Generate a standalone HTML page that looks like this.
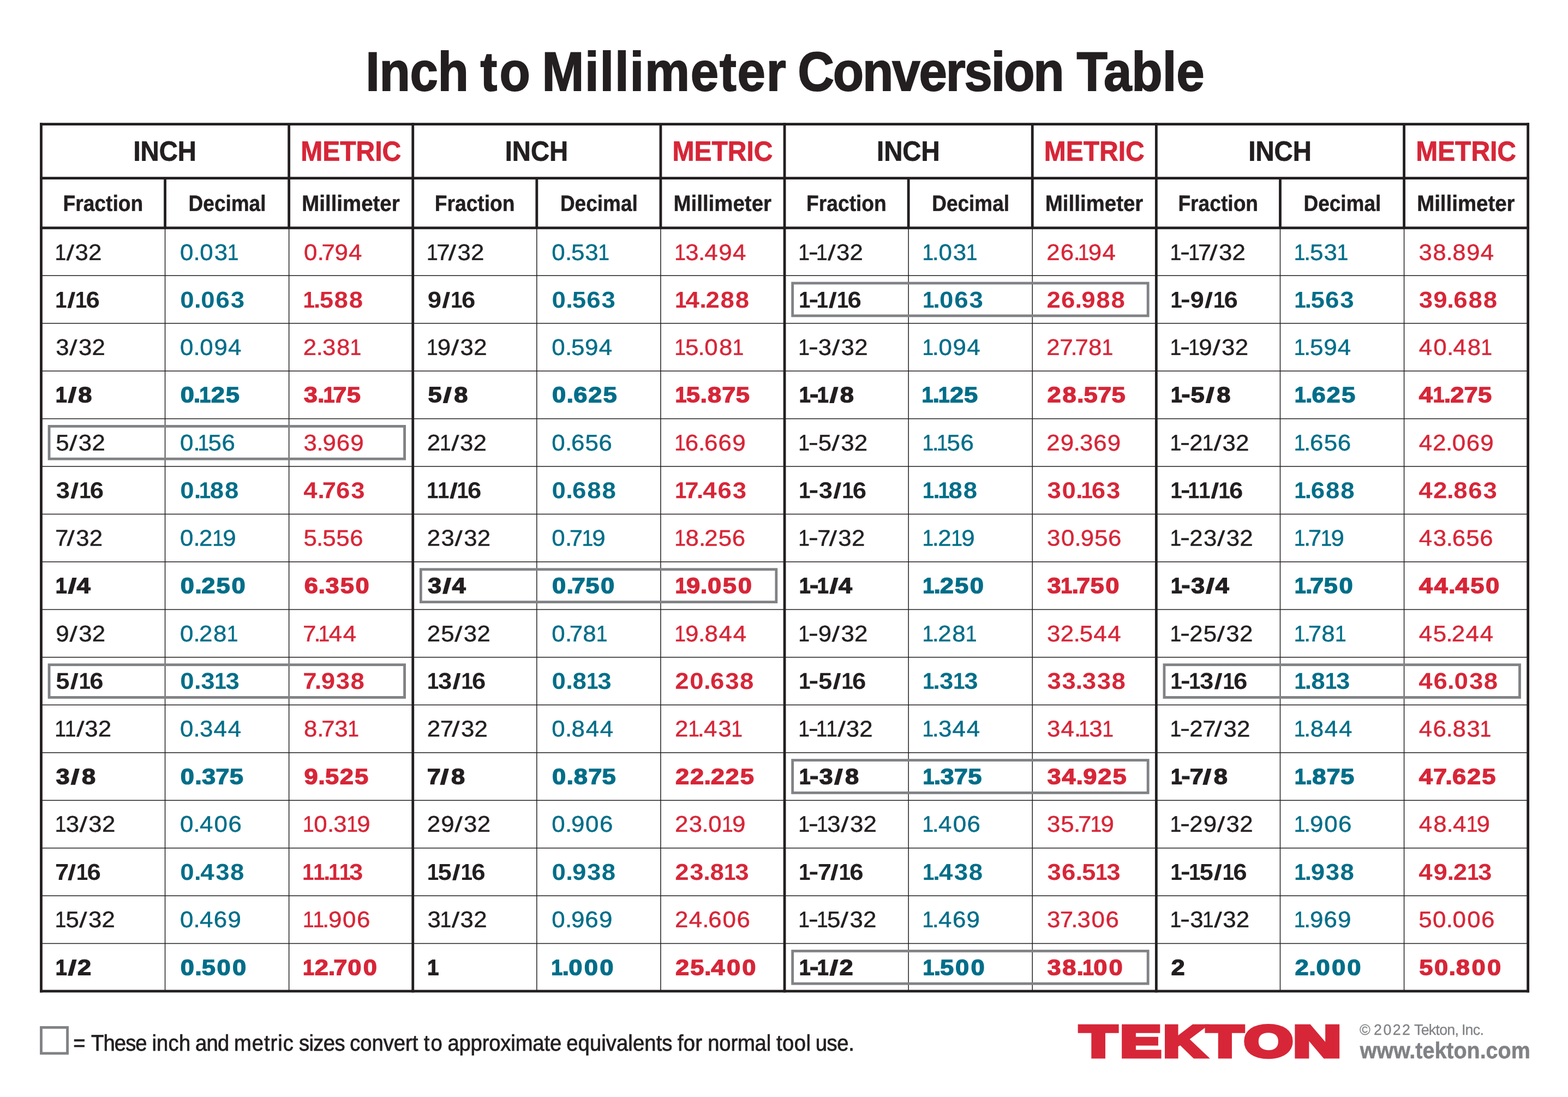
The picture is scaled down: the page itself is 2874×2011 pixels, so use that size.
<!DOCTYPE html>
<html lang="en">
<head>
<meta charset="utf-8">
<title>Inch to Millimeter Conversion Table</title>
<style>
html,body{margin:0;padding:0;background:#fff}
body{width:2874px;height:2011px;overflow:hidden}
svg{display:block;font-family:'Liberation Sans', Arial, Helvetica, sans-serif;text-rendering:geometricPrecision}
text{white-space:pre}
</style>
</head>
<body>
<svg width="2874" height="2011" viewBox="0 0 2874 2011">
<rect width="2874" height="2011" fill="#fff"/>
<g fill="#231f20">
<rect x="75.45" y="504.50" width="2725.20" height="1.5"/>
<rect x="75.45" y="591.95" width="2725.20" height="1.5"/>
<rect x="75.45" y="679.40" width="2725.20" height="1.5"/>
<rect x="75.45" y="766.85" width="2725.20" height="1.5"/>
<rect x="75.45" y="854.30" width="2725.20" height="1.5"/>
<rect x="75.45" y="941.75" width="2725.20" height="1.5"/>
<rect x="75.45" y="1029.20" width="2725.20" height="1.5"/>
<rect x="75.45" y="1116.65" width="2725.20" height="1.5"/>
<rect x="75.45" y="1204.10" width="2725.20" height="1.5"/>
<rect x="75.45" y="1291.55" width="2725.20" height="1.5"/>
<rect x="75.45" y="1379.00" width="2725.20" height="1.5"/>
<rect x="75.45" y="1466.45" width="2725.20" height="1.5"/>
<rect x="75.45" y="1553.90" width="2725.20" height="1.5"/>
<rect x="75.45" y="1641.35" width="2725.20" height="1.5"/>
<rect x="75.45" y="1728.80" width="2725.20" height="1.5"/>
<rect x="301.80" y="417.80" width="1.5" height="1399.20"/>
<rect x="528.90" y="417.80" width="1.5" height="1399.20"/>
<rect x="983.10" y="417.80" width="1.5" height="1399.20"/>
<rect x="1210.20" y="417.80" width="1.5" height="1399.20"/>
<rect x="1664.40" y="417.80" width="1.5" height="1399.20"/>
<rect x="1891.50" y="417.80" width="1.5" height="1399.20"/>
<rect x="2345.70" y="417.80" width="1.5" height="1399.20"/>
<rect x="2572.80" y="417.80" width="1.5" height="1399.20"/>
<rect x="73.05" y="225.20" width="2730.00" height="4.8"/>
<rect x="73.05" y="324.20" width="2730.00" height="4.8"/>
<rect x="73.05" y="415.40" width="2730.00" height="4.8"/>
<rect x="73.05" y="1814.60" width="2730.00" height="4.8"/>
<rect x="73.05" y="225.20" width="4.8" height="1594.20"/>
<rect x="300.15" y="326.60" width="4.8" height="91.20"/>
<rect x="527.25" y="227.60" width="4.8" height="190.20"/>
<rect x="754.35" y="225.20" width="4.8" height="1594.20"/>
<rect x="981.45" y="326.60" width="4.8" height="91.20"/>
<rect x="1208.55" y="227.60" width="4.8" height="190.20"/>
<rect x="1435.65" y="225.20" width="4.8" height="1594.20"/>
<rect x="1662.75" y="326.60" width="4.8" height="91.20"/>
<rect x="1889.85" y="227.60" width="4.8" height="190.20"/>
<rect x="2116.95" y="225.20" width="4.8" height="1594.20"/>
<rect x="2344.05" y="326.60" width="4.8" height="91.20"/>
<rect x="2571.15" y="227.60" width="4.8" height="190.20"/>
<rect x="2798.25" y="225.20" width="4.8" height="1594.20"/>
</g>
<g fill="none" stroke="#808285" stroke-width="4.8">
<rect x="90.05" y="781.43" width="651.50" height="59.8"/>
<rect x="90.05" y="1218.67" width="651.50" height="59.8"/>
<rect x="771.35" y="1043.78" width="651.50" height="59.8"/>
<rect x="1452.65" y="519.08" width="651.50" height="59.8"/>
<rect x="1452.65" y="1393.57" width="651.50" height="59.8"/>
<rect x="1452.65" y="1743.38" width="651.50" height="59.8"/>
<rect x="2133.95" y="1218.67" width="651.50" height="59.8"/>
<rect x="75.47" y="1883.5" width="48.1" height="47.5"/>
</g>
<text transform="translate(0 165.70) scale(0.9151 1)" y="0" font-size="100.87" font-weight="bold" fill="#231f20" stroke="#231f20" stroke-width="2.0" stroke-linejoin="miter"><tspan x="732.49" letter-spacing="-0.453">Inch</tspan> <tspan x="962.26" letter-spacing="4.557">to</tspan> <tspan x="1085.55" letter-spacing="1.985">Millimeter</tspan> <tspan x="1597.97" letter-spacing="-2.340">Conversion</tspan> <tspan x="2156.52">Table</tspan></text>
<text transform="translate(242.85 294.50) rotate(0.05) scale(0.9293 1)" y="0" font-size="50.87" font-weight="bold" fill="#231f20" stroke="#231f20" stroke-width="0.8" stroke-linejoin="miter"><tspan x="1.70">INCH</tspan></text>
<text transform="translate(549.7 294.50) rotate(0.05) scale(0.9432 1)" y="0" font-size="50.87" font-weight="bold" fill="#d72638" stroke="#d72638" stroke-width="0.8" stroke-linejoin="miter"><tspan x="1.64">METRIC</tspan></text>
<text transform="translate(924.15 294.50) rotate(0.05) scale(0.9293 1)" y="0" font-size="50.87" font-weight="bold" fill="#231f20" stroke="#231f20" stroke-width="0.8" stroke-linejoin="miter"><tspan x="1.70">INCH</tspan></text>
<text transform="translate(1231 294.50) rotate(0.05) scale(0.9432 1)" y="0" font-size="50.87" font-weight="bold" fill="#d72638" stroke="#d72638" stroke-width="0.8" stroke-linejoin="miter"><tspan x="1.64">METRIC</tspan></text>
<text transform="translate(1605.45 294.50) rotate(0.05) scale(0.9293 1)" y="0" font-size="50.87" font-weight="bold" fill="#231f20" stroke="#231f20" stroke-width="0.8" stroke-linejoin="miter"><tspan x="1.70">INCH</tspan></text>
<text transform="translate(1912.3 294.50) rotate(0.05) scale(0.9432 1)" y="0" font-size="50.87" font-weight="bold" fill="#d72638" stroke="#d72638" stroke-width="0.8" stroke-linejoin="miter"><tspan x="1.64">METRIC</tspan></text>
<text transform="translate(2286.75 294.50) rotate(0.05) scale(0.9293 1)" y="0" font-size="50.87" font-weight="bold" fill="#231f20" stroke="#231f20" stroke-width="0.8" stroke-linejoin="miter"><tspan x="1.70">INCH</tspan></text>
<text transform="translate(2593.6 294.50) rotate(0.05) scale(0.9432 1)" y="0" font-size="50.87" font-weight="bold" fill="#d72638" stroke="#d72638" stroke-width="0.8" stroke-linejoin="miter"><tspan x="1.64">METRIC</tspan></text>
<text transform="translate(113.1 386.70) rotate(0.05) scale(0.9089 1)" y="0" font-size="40.92" font-weight="bold" fill="#231f20" stroke="#231f20" stroke-width="0.5" stroke-linejoin="miter"><tspan x="2.65">Fraction</tspan></text>
<text transform="translate(343.2 386.70) rotate(0.05) scale(0.9038 1)" y="0" font-size="40.92" font-weight="bold" fill="#231f20" stroke="#231f20" stroke-width="0.5" stroke-linejoin="miter"><tspan x="2.68">Decimal</tspan></text>
<text transform="translate(550.9 386.70) rotate(0.05) scale(0.9397 1)" y="0" font-size="40.92" font-weight="bold" fill="#231f20" stroke="#231f20" stroke-width="0.5" stroke-linejoin="miter"><tspan x="2.51">Millimeter</tspan></text>
<text transform="translate(794.4 386.70) rotate(0.05) scale(0.9089 1)" y="0" font-size="40.92" font-weight="bold" fill="#231f20" stroke="#231f20" stroke-width="0.5" stroke-linejoin="miter"><tspan x="2.65">Fraction</tspan></text>
<text transform="translate(1024.5 386.70) rotate(0.05) scale(0.9038 1)" y="0" font-size="40.92" font-weight="bold" fill="#231f20" stroke="#231f20" stroke-width="0.5" stroke-linejoin="miter"><tspan x="2.68">Decimal</tspan></text>
<text transform="translate(1232.2 386.70) rotate(0.05) scale(0.9397 1)" y="0" font-size="40.92" font-weight="bold" fill="#231f20" stroke="#231f20" stroke-width="0.5" stroke-linejoin="miter"><tspan x="2.51">Millimeter</tspan></text>
<text transform="translate(1475.7 386.70) rotate(0.05) scale(0.9089 1)" y="0" font-size="40.92" font-weight="bold" fill="#231f20" stroke="#231f20" stroke-width="0.5" stroke-linejoin="miter"><tspan x="2.65">Fraction</tspan></text>
<text transform="translate(1705.8 386.70) rotate(0.05) scale(0.9038 1)" y="0" font-size="40.92" font-weight="bold" fill="#231f20" stroke="#231f20" stroke-width="0.5" stroke-linejoin="miter"><tspan x="2.68">Decimal</tspan></text>
<text transform="translate(1913.5 386.70) rotate(0.05) scale(0.9397 1)" y="0" font-size="40.92" font-weight="bold" fill="#231f20" stroke="#231f20" stroke-width="0.5" stroke-linejoin="miter"><tspan x="2.51">Millimeter</tspan></text>
<text transform="translate(2157 386.70) rotate(0.05) scale(0.9089 1)" y="0" font-size="40.92" font-weight="bold" fill="#231f20" stroke="#231f20" stroke-width="0.5" stroke-linejoin="miter"><tspan x="2.65">Fraction</tspan></text>
<text transform="translate(2387.1 386.70) rotate(0.05) scale(0.9038 1)" y="0" font-size="40.92" font-weight="bold" fill="#231f20" stroke="#231f20" stroke-width="0.5" stroke-linejoin="miter"><tspan x="2.68">Decimal</tspan></text>
<text transform="translate(2594.8 386.70) rotate(0.05) scale(0.9397 1)" y="0" font-size="40.92" font-weight="bold" fill="#231f20" stroke="#231f20" stroke-width="0.5" stroke-linejoin="miter"><tspan x="2.51">Millimeter</tspan></text>
<text transform="translate(100.05 476.75) rotate(0.05) scale(1.0588 1)" x="0.38 20.62 35.35 58.61" y="0" font-size="41.42" font-weight="normal" fill="#231f20" stroke="#231f20" stroke-width="0.5"><tspan textLength="19.58" lengthAdjust="spacingAndGlyphs">1</tspan><tspan font-size="39.14" textLength="13.35" lengthAdjust="spacingAndGlyphs">/</tspan>32</text>
<text transform="translate(327.15 476.75) rotate(0.05) scale(1.0588 1)" x="2.70 25.93 37.03 61.85 84.56" y="0" font-size="41.42" font-weight="normal" fill="#006e89" stroke="#006e89" stroke-width="0.5">0.03<tspan textLength="19.58" lengthAdjust="spacingAndGlyphs">1</tspan></text>
<text transform="translate(554.25 476.75) rotate(0.05) scale(1.0588 1)" x="2.70 25.93 33.37 55.93 80.13" y="0" font-size="41.42" font-weight="normal" fill="#d72638" stroke="#d72638" stroke-width="0.5">0.794</text>
<text transform="translate(100.05 564.00) rotate(0.05) scale(1.0816 1)" x="0.96 21.21 34.76 53.04" y="0" font-size="42.15" font-weight="bold" fill="#231f20"><tspan textLength="19.94" lengthAdjust="spacingAndGlyphs">1</tspan><tspan font-size="39.83" textLength="14.32" lengthAdjust="spacingAndGlyphs">/</tspan><tspan textLength="19.94" lengthAdjust="spacingAndGlyphs">1</tspan>6</text>
<text transform="translate(327.15 564.00) rotate(0.05) scale(1.0816 1)" x="2.78 26.57 38.08 63.23 88.42" y="0" font-size="42.15" font-weight="bold" fill="#006e89">0.063</text>
<text transform="translate(554.25 564.00) rotate(0.05) scale(1.0816 1)" x="1.10 19.01 29.13 53.90 79.15" y="0" font-size="42.15" font-weight="bold" fill="#d72638"><tspan textLength="19.94" lengthAdjust="spacingAndGlyphs">1</tspan>.588</text>
<text transform="translate(100.05 650.75) rotate(0.05) scale(1.0588 1)" x="2.11 25.81 41.49 64.75" y="0" font-size="41.42" font-weight="normal" fill="#231f20" stroke="#231f20" stroke-width="0.5">3<tspan font-size="39.14" textLength="13.35" lengthAdjust="spacingAndGlyphs">/</tspan>32</text>
<text transform="translate(327.15 650.75) rotate(0.05) scale(1.0588 1)" x="2.70 25.93 37.03 61.64 85.85" y="0" font-size="41.42" font-weight="normal" fill="#006e89" stroke="#006e89" stroke-width="0.5">0.094</text>
<text transform="translate(554.25 650.75) rotate(0.05) scale(1.0588 1)" x="1.37 24.04 34.74 59.18 82.38" y="0" font-size="41.42" font-weight="normal" fill="#d72638" stroke="#d72638" stroke-width="0.5">2.38<tspan textLength="19.58" lengthAdjust="spacingAndGlyphs">1</tspan></text>
<text transform="translate(100.05 737.35) rotate(0.05) scale(1.125 1)" x="1.51 21.93 38.45" y="0" font-size="40.26" font-weight="bold" fill="#231f20" stroke="#231f20" stroke-width="1.3"><tspan textLength="18.71" lengthAdjust="spacingAndGlyphs">1</tspan><tspan font-size="38.05" textLength="13.62" lengthAdjust="spacingAndGlyphs">/</tspan>8</text>
<text transform="translate(327.15 737.35) rotate(0.05) scale(1.125 1)" x="3.28 24.63 33.83 53.08 76.93" y="0" font-size="40.26" font-weight="bold" fill="#006e89" stroke="#006e89" stroke-width="1.3">0.<tspan textLength="18.71" lengthAdjust="spacingAndGlyphs">1</tspan>25</text>
<text transform="translate(554.25 737.35) rotate(0.05) scale(1.125 1)" x="2.26 24.65 33.90 49.73 72.37" y="0" font-size="40.26" font-weight="bold" fill="#d72638" stroke="#d72638" stroke-width="1.3">3.<tspan textLength="18.71" lengthAdjust="spacingAndGlyphs">1</tspan>75</text>
<text transform="translate(100.05 825.80) rotate(0.05) scale(1.0588 1)" x="2.08 25.62 41.30 64.56" y="0" font-size="41.42" font-weight="normal" fill="#231f20" stroke="#231f20" stroke-width="0.5">5<tspan font-size="39.14" textLength="13.35" lengthAdjust="spacingAndGlyphs">/</tspan>32</text>
<text transform="translate(327.15 825.80) rotate(0.05) scale(1.0588 1)" x="2.70 25.93 33.46 51.33 74.95" y="0" font-size="41.42" font-weight="normal" fill="#006e89" stroke="#006e89" stroke-width="0.5">0.<tspan textLength="19.58" lengthAdjust="spacingAndGlyphs">1</tspan>56</text>
<text transform="translate(554.25 825.80) rotate(0.05) scale(1.0588 1)" x="2.11 24.61 35.10 58.99 83.22" y="0" font-size="41.42" font-weight="normal" fill="#d72638" stroke="#d72638" stroke-width="0.5">3.969</text>
<text transform="translate(100.05 913.30) rotate(0.05) scale(1.0816 1)" x="2.52 26.71 41.53 59.80" y="0" font-size="42.15" font-weight="bold" fill="#231f20">3<tspan font-size="39.83" textLength="14.32" lengthAdjust="spacingAndGlyphs">/</tspan><tspan textLength="19.94" lengthAdjust="spacingAndGlyphs">1</tspan>6</text>
<text transform="translate(327.15 913.30) rotate(0.05) scale(1.0816 1)" x="2.78 26.41 34.80 53.20 78.46" y="0" font-size="42.15" font-weight="bold" fill="#006e89">0.<tspan textLength="19.94" lengthAdjust="spacingAndGlyphs">1</tspan>88</text>
<text transform="translate(554.25 913.30) rotate(0.05) scale(1.0816 1)" x="1.94 25.86 33.86 56.99 82.18" y="0" font-size="42.15" font-weight="bold" fill="#d72638">4.763</text>
<text transform="translate(100.05 1000.35) rotate(0.05) scale(1.0588 1)" x="0.79 21.28 36.96 60.21" y="0" font-size="41.42" font-weight="normal" fill="#231f20" stroke="#231f20" stroke-width="0.5">7<tspan font-size="39.14" textLength="13.35" lengthAdjust="spacingAndGlyphs">/</tspan>32</text>
<text transform="translate(327.15 1000.35) rotate(0.05) scale(1.0588 1)" x="2.70 25.93 35.80 58.68 76.56" y="0" font-size="41.42" font-weight="normal" fill="#006e89" stroke="#006e89" stroke-width="0.5">0.2<tspan textLength="19.58" lengthAdjust="spacingAndGlyphs">1</tspan>9</text>
<text transform="translate(554.25 1000.35) rotate(0.05) scale(1.0588 1)" x="2.08 24.42 34.90 58.60 82.22" y="0" font-size="41.42" font-weight="normal" fill="#d72638" stroke="#d72638" stroke-width="0.5">5.556</text>
<text transform="translate(100.05 1087.25) rotate(0.05) scale(1.125 1)" x="1.51 21.93 35.87" y="0" font-size="40.26" font-weight="bold" fill="#231f20" stroke="#231f20" stroke-width="1.3"><tspan textLength="18.71" lengthAdjust="spacingAndGlyphs">1</tspan><tspan font-size="38.05" textLength="13.62" lengthAdjust="spacingAndGlyphs">/</tspan>4</text>
<text transform="translate(327.15 1087.25) rotate(0.05) scale(1.125 1)" x="3.28 26.66 37.44 61.68 86.46" y="0" font-size="40.26" font-weight="bold" fill="#006e89" stroke="#006e89" stroke-width="1.3">0.250</text>
<text transform="translate(554.25 1087.25) rotate(0.05) scale(1.125 1)" x="3.00 26.10 37.64 61.69 86.48" y="0" font-size="40.26" font-weight="bold" fill="#d72638" stroke="#d72638" stroke-width="1.3">6.350</text>
<text transform="translate(100.05 1175.75) rotate(0.05) scale(1.0588 1)" x="2.19 26.00 41.68 64.94" y="0" font-size="41.42" font-weight="normal" fill="#231f20" stroke="#231f20" stroke-width="0.5">9<tspan font-size="39.14" textLength="13.35" lengthAdjust="spacingAndGlyphs">/</tspan>32</text>
<text transform="translate(327.15 1175.75) rotate(0.05) scale(1.0588 1)" x="2.70 25.93 35.80 60.40 83.61" y="0" font-size="41.42" font-weight="normal" fill="#006e89" stroke="#006e89" stroke-width="0.5">0.28<tspan textLength="19.58" lengthAdjust="spacingAndGlyphs">1</tspan></text>
<text transform="translate(554.25 1175.75) rotate(0.05) scale(1.0588 1)" x="0.79 20.08 27.60 45.71 70.45" y="0" font-size="41.42" font-weight="normal" fill="#d72638" stroke="#d72638" stroke-width="0.5">7.<tspan textLength="19.58" lengthAdjust="spacingAndGlyphs">1</tspan>44</text>
<text transform="translate(100.05 1262.80) rotate(0.05) scale(1.0816 1)" x="2.06 26.21 41.02 59.30" y="0" font-size="42.15" font-weight="bold" fill="#231f20">5<tspan font-size="39.83" textLength="14.32" lengthAdjust="spacingAndGlyphs">/</tspan><tspan textLength="19.94" lengthAdjust="spacingAndGlyphs">1</tspan>6</text>
<text transform="translate(327.15 1262.80) rotate(0.05) scale(1.0816 1)" x="2.78 26.57 37.99 61.16 79.83" y="0" font-size="42.15" font-weight="bold" fill="#006e89">0.3<tspan textLength="19.94" lengthAdjust="spacingAndGlyphs">1</tspan>3</text>
<text transform="translate(554.25 1262.80) rotate(0.05) scale(1.0816 1)" x="0.89 20.89 31.85 56.80 81.61" y="0" font-size="42.15" font-weight="bold" fill="#d72638">7.938</text>
<text transform="translate(100.05 1350.05) rotate(0.05) scale(1.0588 1)" x="0.30 17.76 37.98 52.07 75.33" y="0" font-size="41.42" font-weight="normal" fill="#231f20" stroke="#231f20" stroke-width="0.5"><tspan textLength="19.58" lengthAdjust="spacingAndGlyphs">1</tspan><tspan textLength="19.58" lengthAdjust="spacingAndGlyphs">1</tspan><tspan font-size="39.14" textLength="13.35" lengthAdjust="spacingAndGlyphs">/</tspan>32</text>
<text transform="translate(327.15 1350.05) rotate(0.05) scale(1.0588 1)" x="2.70 25.93 36.63 60.72 85.47" y="0" font-size="41.42" font-weight="normal" fill="#006e89" stroke="#006e89" stroke-width="0.5">0.344</text>
<text transform="translate(554.25 1350.05) rotate(0.05) scale(1.0588 1)" x="2.55 25.56 32.99 55.75 78.46" y="0" font-size="41.42" font-weight="normal" fill="#d72638" stroke="#d72638" stroke-width="0.5">8.73<tspan textLength="19.58" lengthAdjust="spacingAndGlyphs">1</tspan></text>
<text transform="translate(100.05 1437.20) rotate(0.05) scale(1.125 1)" x="2.26 26.72 44.48" y="0" font-size="40.26" font-weight="bold" fill="#231f20" stroke="#231f20" stroke-width="1.3">3<tspan font-size="38.05" textLength="13.62" lengthAdjust="spacingAndGlyphs">/</tspan>8</text>
<text transform="translate(327.15 1437.20) rotate(0.05) scale(1.125 1)" x="3.28 26.66 38.20 60.64 83.28" y="0" font-size="40.26" font-weight="bold" fill="#006e89" stroke="#006e89" stroke-width="1.3">0.375</text>
<text transform="translate(554.25 1437.20) rotate(0.05) scale(1.125 1)" x="2.96 25.89 37.06 60.93 85.17" y="0" font-size="40.26" font-weight="bold" fill="#d72638" stroke="#d72638" stroke-width="1.3">9.525</text>
<text transform="translate(100.05 1524.65) rotate(0.05) scale(1.0588 1)" x="0.61 19.49 43.19 58.87 82.13" y="0" font-size="41.42" font-weight="normal" fill="#231f20" stroke="#231f20" stroke-width="0.5"><tspan textLength="19.58" lengthAdjust="spacingAndGlyphs">1</tspan>3<tspan font-size="39.14" textLength="13.35" lengthAdjust="spacingAndGlyphs">/</tspan>32</text>
<text transform="translate(327.15 1524.65) rotate(0.05) scale(1.0588 1)" x="2.70 25.93 36.64 61.77 86.28" y="0" font-size="41.42" font-weight="normal" fill="#006e89" stroke="#006e89" stroke-width="0.5">0.406</text>
<text transform="translate(554.25 1524.65) rotate(0.05) scale(1.0588 1)" x="0.61 19.89 43.12 53.82 76.53 94.41" y="0" font-size="41.42" font-weight="normal" fill="#d72638" stroke="#d72638" stroke-width="0.5"><tspan textLength="19.58" lengthAdjust="spacingAndGlyphs">1</tspan>0.3<tspan textLength="19.58" lengthAdjust="spacingAndGlyphs">1</tspan>9</text>
<text transform="translate(100.05 1613.00) rotate(0.05) scale(1.0816 1)" x="0.89 21.96 36.77 55.05" y="0" font-size="42.15" font-weight="bold" fill="#231f20">7<tspan font-size="39.83" textLength="14.32" lengthAdjust="spacingAndGlyphs">/</tspan><tspan textLength="19.94" lengthAdjust="spacingAndGlyphs">1</tspan>6</text>
<text transform="translate(327.15 1613.00) rotate(0.05) scale(1.0816 1)" x="2.78 26.57 37.20 62.87 87.68" y="0" font-size="42.15" font-weight="bold" fill="#006e89">0.438</text>
<text transform="translate(554.25 1613.00) rotate(0.05) scale(1.0816 1)" x="-0.19 18.16 35.91 44.14 62.52 79.32" y="0" font-size="42.15" font-weight="bold" fill="#d72638"><tspan textLength="19.94" lengthAdjust="spacingAndGlyphs">1</tspan><tspan textLength="19.94" lengthAdjust="spacingAndGlyphs">1</tspan>.<tspan textLength="19.94" lengthAdjust="spacingAndGlyphs">1</tspan><tspan textLength="19.94" lengthAdjust="spacingAndGlyphs">1</tspan>3</text>
<text transform="translate(100.05 1699.75) rotate(0.05) scale(1.0588 1)" x="0.61 19.26 42.81 58.49 81.75" y="0" font-size="41.42" font-weight="normal" fill="#231f20" stroke="#231f20" stroke-width="0.5"><tspan textLength="19.58" lengthAdjust="spacingAndGlyphs">1</tspan>5<tspan font-size="39.14" textLength="13.35" lengthAdjust="spacingAndGlyphs">/</tspan>32</text>
<text transform="translate(327.15 1699.75) rotate(0.05) scale(1.0588 1)" x="2.70 25.93 36.64 61.06 85.30" y="0" font-size="41.42" font-weight="normal" fill="#006e89" stroke="#006e89" stroke-width="0.5">0.469</text>
<text transform="translate(554.25 1699.75) rotate(0.05) scale(1.0588 1)" x="0.61 18.11 34.62 45.11 69.71 94.22" y="0" font-size="41.42" font-weight="normal" fill="#d72638" stroke="#d72638" stroke-width="0.5"><tspan textLength="19.58" lengthAdjust="spacingAndGlyphs">1</tspan><tspan textLength="19.58" lengthAdjust="spacingAndGlyphs">1</tspan>.906</text>
<text transform="translate(100.05 1787.25) rotate(0.05) scale(1.125 1)" x="1.51 21.93 37.30" y="0" font-size="40.26" font-weight="bold" fill="#231f20" stroke="#231f20" stroke-width="1.3"><tspan textLength="18.71" lengthAdjust="spacingAndGlyphs">1</tspan><tspan font-size="38.05" textLength="13.62" lengthAdjust="spacingAndGlyphs">/</tspan>2</text>
<text transform="translate(327.15 1787.25) rotate(0.05) scale(1.125 1)" x="3.28 26.66 37.82 62.60 87.90" y="0" font-size="40.26" font-weight="bold" fill="#006e89" stroke="#006e89" stroke-width="1.3">0.500</text>
<text transform="translate(554.25 1787.25) rotate(0.05) scale(1.125 1)" x="0.76 19.98 42.31 50.59 73.76 99.06" y="0" font-size="40.26" font-weight="bold" fill="#d72638" stroke="#d72638" stroke-width="1.3"><tspan textLength="18.71" lengthAdjust="spacingAndGlyphs">1</tspan>2.700</text>
<text transform="translate(781.35 476.75) rotate(0.05) scale(1.0588 1)" x="0.61 17.79 38.28 53.96 77.21" y="0" font-size="41.42" font-weight="normal" fill="#231f20" stroke="#231f20" stroke-width="0.5"><tspan textLength="19.58" lengthAdjust="spacingAndGlyphs">1</tspan>7<tspan font-size="39.14" textLength="13.35" lengthAdjust="spacingAndGlyphs">/</tspan>32</text>
<text transform="translate(1008.45 476.75) rotate(0.05) scale(1.0588 1)" x="2.70 25.93 36.41 60.34 83.04" y="0" font-size="41.42" font-weight="normal" fill="#006e89" stroke="#006e89" stroke-width="0.5">0.53<tspan textLength="19.58" lengthAdjust="spacingAndGlyphs">1</tspan></text>
<text transform="translate(1235.55 476.75) rotate(0.05) scale(1.0588 1)" x="0.61 19.49 41.99 52.70 77.22 101.43" y="0" font-size="41.42" font-weight="normal" fill="#d72638" stroke="#d72638" stroke-width="0.5"><tspan textLength="19.58" lengthAdjust="spacingAndGlyphs">1</tspan>3.494</text>
<text transform="translate(781.35 564.00) rotate(0.05) scale(1.0816 1)" x="2.32 26.59 41.40 59.68" y="0" font-size="42.15" font-weight="bold" fill="#231f20">9<tspan font-size="39.83" textLength="14.32" lengthAdjust="spacingAndGlyphs">/</tspan><tspan textLength="19.94" lengthAdjust="spacingAndGlyphs">1</tspan>6</text>
<text transform="translate(1008.45 564.00) rotate(0.05) scale(1.0816 1)" x="2.78 26.57 37.36 61.80 86.99" y="0" font-size="42.15" font-weight="bold" fill="#006e89">0.563</text>
<text transform="translate(1235.55 564.00) rotate(0.05) scale(1.0816 1)" x="1.26 19.30 43.22 53.62 78.45 103.71" y="0" font-size="42.15" font-weight="bold" fill="#d72638"><tspan textLength="19.94" lengthAdjust="spacingAndGlyphs">1</tspan>4.288</text>
<text transform="translate(781.35 650.75) rotate(0.05) scale(1.0588 1)" x="0.61 19.28 43.10 58.78 82.03" y="0" font-size="41.42" font-weight="normal" fill="#231f20" stroke="#231f20" stroke-width="0.5"><tspan textLength="19.58" lengthAdjust="spacingAndGlyphs">1</tspan>9<tspan font-size="39.14" textLength="13.35" lengthAdjust="spacingAndGlyphs">/</tspan>32</text>
<text transform="translate(1008.45 650.75) rotate(0.05) scale(1.0588 1)" x="2.70 25.93 36.41 60.13 84.34" y="0" font-size="41.42" font-weight="normal" fill="#006e89" stroke="#006e89" stroke-width="0.5">0.594</text>
<text transform="translate(1235.55 650.75) rotate(0.05) scale(1.0588 1)" x="0.61 19.26 41.61 52.71 77.88 101.08" y="0" font-size="41.42" font-weight="normal" fill="#d72638" stroke="#d72638" stroke-width="0.5"><tspan textLength="19.58" lengthAdjust="spacingAndGlyphs">1</tspan>5.08<tspan textLength="19.58" lengthAdjust="spacingAndGlyphs">1</tspan></text>
<text transform="translate(781.35 737.35) rotate(0.05) scale(1.125 1)" x="2.75 27.39 45.16" y="0" font-size="40.26" font-weight="bold" fill="#231f20" stroke="#231f20" stroke-width="1.3">5<tspan font-size="38.05" textLength="13.62" lengthAdjust="spacingAndGlyphs">/</tspan>8</text>
<text transform="translate(1008.45 737.35) rotate(0.05) scale(1.125 1)" x="3.28 26.66 37.95 62.06 86.30" y="0" font-size="40.26" font-weight="bold" fill="#006e89" stroke="#006e89" stroke-width="1.3">0.625</text>
<text transform="translate(1235.55 737.35) rotate(0.05) scale(1.125 1)" x="1.81 19.83 42.70 54.64 77.99 100.62" y="0" font-size="40.26" font-weight="bold" fill="#d72638" stroke="#d72638" stroke-width="1.3"><tspan textLength="18.71" lengthAdjust="spacingAndGlyphs">1</tspan>5.875</text>
<text transform="translate(781.35 825.80) rotate(0.05) scale(1.0588 1)" x="1.37 23.18 43.42 58.21 81.46" y="0" font-size="41.42" font-weight="normal" fill="#231f20" stroke="#231f20" stroke-width="0.5">2<tspan textLength="19.58" lengthAdjust="spacingAndGlyphs">1</tspan><tspan font-size="39.14" textLength="13.35" lengthAdjust="spacingAndGlyphs">/</tspan>32</text>
<text transform="translate(1008.45 825.80) rotate(0.05) scale(1.0588 1)" x="2.70 25.93 36.32 60.54 84.16" y="0" font-size="41.42" font-weight="normal" fill="#006e89" stroke="#006e89" stroke-width="0.5">0.656</text>
<text transform="translate(1235.55 825.80) rotate(0.05) scale(1.0588 1)" x="0.61 19.18 42.04 52.42 76.55 100.79" y="0" font-size="41.42" font-weight="normal" fill="#d72638" stroke="#d72638" stroke-width="0.5"><tspan textLength="19.58" lengthAdjust="spacingAndGlyphs">1</tspan>6.669</text>
<text transform="translate(781.35 913.30) rotate(0.05) scale(1.0816 1)" x="0.57 19.02 39.24 51.72 69.99" y="0" font-size="42.15" font-weight="bold" fill="#231f20"><tspan textLength="19.94" lengthAdjust="spacingAndGlyphs">1</tspan><tspan textLength="19.94" lengthAdjust="spacingAndGlyphs">1</tspan><tspan font-size="39.83" textLength="14.32" lengthAdjust="spacingAndGlyphs">/</tspan><tspan textLength="19.94" lengthAdjust="spacingAndGlyphs">1</tspan>6</text>
<text transform="translate(1008.45 913.30) rotate(0.05) scale(1.0816 1)" x="2.78 26.57 37.60 62.73 87.99" y="0" font-size="42.15" font-weight="bold" fill="#006e89">0.688</text>
<text transform="translate(1235.55 913.30) rotate(0.05) scale(1.0816 1)" x="1.26 18.14 38.13 48.76 74.04 99.23" y="0" font-size="42.15" font-weight="bold" fill="#d72638"><tspan textLength="19.94" lengthAdjust="spacingAndGlyphs">1</tspan>7.463</text>
<text transform="translate(781.35 1000.35) rotate(0.05) scale(1.0588 1)" x="1.37 25.63 49.33 65.01 88.26" y="0" font-size="41.42" font-weight="normal" fill="#231f20" stroke="#231f20" stroke-width="0.5">23<tspan font-size="39.14" textLength="13.35" lengthAdjust="spacingAndGlyphs">/</tspan>32</text>
<text transform="translate(1008.45 1000.35) rotate(0.05) scale(1.0588 1)" x="2.70 25.93 33.37 54.76 72.64" y="0" font-size="41.42" font-weight="normal" fill="#006e89" stroke="#006e89" stroke-width="0.5">0.7<tspan textLength="19.58" lengthAdjust="spacingAndGlyphs">1</tspan>9</text>
<text transform="translate(1235.55 1000.35) rotate(0.05) scale(1.0588 1)" x="0.61 19.84 42.84 52.71 76.74 100.35" y="0" font-size="41.42" font-weight="normal" fill="#d72638" stroke="#d72638" stroke-width="0.5"><tspan textLength="19.58" lengthAdjust="spacingAndGlyphs">1</tspan>8.256</text>
<text transform="translate(781.35 1087.25) rotate(0.05) scale(1.125 1)" x="2.26 26.72 41.90" y="0" font-size="40.26" font-weight="bold" fill="#231f20" stroke="#231f20" stroke-width="1.3">3<tspan font-size="38.05" textLength="13.62" lengthAdjust="spacingAndGlyphs">/</tspan>4</text>
<text transform="translate(1008.45 1087.25) rotate(0.05) scale(1.125 1)" x="3.28 26.66 34.94 57.58 82.36" y="0" font-size="40.26" font-weight="bold" fill="#006e89" stroke="#006e89" stroke-width="1.3">0.750</text>
<text transform="translate(1235.55 1087.25) rotate(0.05) scale(1.125 1)" x="1.81 19.96 42.90 54.60 79.36 104.14" y="0" font-size="40.26" font-weight="bold" fill="#d72638" stroke="#d72638" stroke-width="1.3"><tspan textLength="18.71" lengthAdjust="spacingAndGlyphs">1</tspan>9.050</text>
<text transform="translate(781.35 1175.75) rotate(0.05) scale(1.0588 1)" x="1.37 25.40 48.95 64.63 87.89" y="0" font-size="41.42" font-weight="normal" fill="#231f20" stroke="#231f20" stroke-width="0.5">25<tspan font-size="39.14" textLength="13.35" lengthAdjust="spacingAndGlyphs">/</tspan>32</text>
<text transform="translate(1008.45 1175.75) rotate(0.05) scale(1.0588 1)" x="2.70 25.93 33.37 56.48 79.69" y="0" font-size="41.42" font-weight="normal" fill="#006e89" stroke="#006e89" stroke-width="0.5">0.78<tspan textLength="19.58" lengthAdjust="spacingAndGlyphs">1</tspan></text>
<text transform="translate(1235.55 1175.75) rotate(0.05) scale(1.0588 1)" x="0.61 19.28 41.89 52.94 77.53 102.28" y="0" font-size="41.42" font-weight="normal" fill="#d72638" stroke="#d72638" stroke-width="0.5"><tspan textLength="19.58" lengthAdjust="spacingAndGlyphs">1</tspan>9.844</text>
<text transform="translate(781.35 1262.80) rotate(0.05) scale(1.0816 1)" x="1.26 20.10 44.29 59.10 77.38" y="0" font-size="42.15" font-weight="bold" fill="#231f20"><tspan textLength="19.94" lengthAdjust="spacingAndGlyphs">1</tspan>3<tspan font-size="39.83" textLength="14.32" lengthAdjust="spacingAndGlyphs">/</tspan><tspan textLength="19.94" lengthAdjust="spacingAndGlyphs">1</tspan>6</text>
<text transform="translate(1008.45 1262.80) rotate(0.05) scale(1.0816 1)" x="2.78 26.57 37.93 61.54 80.21" y="0" font-size="42.15" font-weight="bold" fill="#006e89">0.8<tspan textLength="19.94" lengthAdjust="spacingAndGlyphs">1</tspan>3</text>
<text transform="translate(1235.55 1262.80) rotate(0.05) scale(1.0816 1)" x="1.57 26.55 50.34 61.37 86.56 111.37" y="0" font-size="42.15" font-weight="bold" fill="#d72638">20.638</text>
<text transform="translate(781.35 1350.05) rotate(0.05) scale(1.0588 1)" x="1.37 23.93 44.42 60.10 83.35" y="0" font-size="41.42" font-weight="normal" fill="#231f20" stroke="#231f20" stroke-width="0.5">27<tspan font-size="39.14" textLength="13.35" lengthAdjust="spacingAndGlyphs">/</tspan>32</text>
<text transform="translate(1008.45 1350.05) rotate(0.05) scale(1.0588 1)" x="2.70 25.93 36.98 61.57 86.32" y="0" font-size="41.42" font-weight="normal" fill="#006e89" stroke="#006e89" stroke-width="0.5">0.844</text>
<text transform="translate(1235.55 1350.05) rotate(0.05) scale(1.0588 1)" x="1.37 24.25 40.76 51.47 76.20 98.91" y="0" font-size="41.42" font-weight="normal" fill="#d72638" stroke="#d72638" stroke-width="0.5">2<tspan textLength="19.58" lengthAdjust="spacingAndGlyphs">1</tspan>.43<tspan textLength="19.58" lengthAdjust="spacingAndGlyphs">1</tspan></text>
<text transform="translate(781.35 1437.20) rotate(0.05) scale(1.125 1)" x="1.22 22.73 40.50" y="0" font-size="40.26" font-weight="bold" fill="#231f20" stroke="#231f20" stroke-width="1.3">7<tspan font-size="38.05" textLength="13.62" lengthAdjust="spacingAndGlyphs">/</tspan>8</text>
<text transform="translate(1008.45 1437.20) rotate(0.05) scale(1.125 1)" x="3.28 26.66 38.60 61.94 84.58" y="0" font-size="40.26" font-weight="bold" fill="#006e89" stroke="#006e89" stroke-width="1.3">0.875</text>
<text transform="translate(1235.55 1437.20) rotate(0.05) scale(1.125 1)" x="2.25 26.11 48.95 59.74 83.60 107.83" y="0" font-size="40.26" font-weight="bold" fill="#d72638" stroke="#d72638" stroke-width="1.3">22.225</text>
<text transform="translate(781.35 1524.65) rotate(0.05) scale(1.0588 1)" x="1.37 25.42 49.24 64.92 88.17" y="0" font-size="41.42" font-weight="normal" fill="#231f20" stroke="#231f20" stroke-width="0.5">29<tspan font-size="39.14" textLength="13.35" lengthAdjust="spacingAndGlyphs">/</tspan>32</text>
<text transform="translate(1008.45 1524.65) rotate(0.05) scale(1.0588 1)" x="2.70 25.93 36.42 61.02 85.53" y="0" font-size="41.42" font-weight="normal" fill="#006e89" stroke="#006e89" stroke-width="0.5">0.906</text>
<text transform="translate(1235.55 1524.65) rotate(0.05) scale(1.0588 1)" x="1.37 25.63 48.13 59.22 82.67 100.55" y="0" font-size="41.42" font-weight="normal" fill="#d72638" stroke="#d72638" stroke-width="0.5">23.0<tspan textLength="19.58" lengthAdjust="spacingAndGlyphs">1</tspan>9</text>
<text transform="translate(781.35 1613.00) rotate(0.05) scale(1.0816 1)" x="1.26 19.46 43.61 58.42 76.70" y="0" font-size="42.15" font-weight="bold" fill="#231f20"><tspan textLength="19.94" lengthAdjust="spacingAndGlyphs">1</tspan>5<tspan font-size="39.83" textLength="14.32" lengthAdjust="spacingAndGlyphs">/</tspan><tspan textLength="19.94" lengthAdjust="spacingAndGlyphs">1</tspan>6</text>
<text transform="translate(1008.45 1613.00) rotate(0.05) scale(1.0816 1)" x="2.78 26.57 37.53 62.48 87.29" y="0" font-size="42.15" font-weight="bold" fill="#006e89">0.938</text>
<text transform="translate(1235.55 1613.00) rotate(0.05) scale(1.0816 1)" x="1.57 26.46 49.59 60.95 84.56 103.22" y="0" font-size="42.15" font-weight="bold" fill="#d72638">23.8<tspan textLength="19.94" lengthAdjust="spacingAndGlyphs">1</tspan>3</text>
<text transform="translate(781.35 1699.75) rotate(0.05) scale(1.0588 1)" x="2.11 23.75 43.99 58.78 82.03" y="0" font-size="41.42" font-weight="normal" fill="#231f20" stroke="#231f20" stroke-width="0.5">3<tspan textLength="19.58" lengthAdjust="spacingAndGlyphs">1</tspan><tspan font-size="39.14" textLength="13.35" lengthAdjust="spacingAndGlyphs">/</tspan>32</text>
<text transform="translate(1008.45 1699.75) rotate(0.05) scale(1.0588 1)" x="2.70 25.93 36.42 60.31 84.54" y="0" font-size="41.42" font-weight="normal" fill="#006e89" stroke="#006e89" stroke-width="0.5">0.969</text>
<text transform="translate(1235.55 1699.75) rotate(0.05) scale(1.0588 1)" x="1.37 25.64 48.79 59.18 84.01 108.52" y="0" font-size="41.42" font-weight="normal" fill="#d72638" stroke="#d72638" stroke-width="0.5">24.606</text>
<text transform="translate(781.35 1787.25) rotate(0.05) scale(1.125 1)" x="1.81" y="0" font-size="40.26" font-weight="bold" fill="#231f20" stroke="#231f20" stroke-width="1.3"><tspan textLength="18.71" lengthAdjust="spacingAndGlyphs">1</tspan></text>
<text transform="translate(1008.45 1787.25) rotate(0.05) scale(1.125 1)" x="1.55 19.53 30.14 55.43 80.73" y="0" font-size="40.26" font-weight="bold" fill="#006e89" stroke="#006e89" stroke-width="1.3"><tspan textLength="18.71" lengthAdjust="spacingAndGlyphs">1</tspan>.000</text>
<text transform="translate(1235.55 1787.25) rotate(0.05) scale(1.125 1)" x="2.25 26.48 49.35 60.23 85.63 110.93" y="0" font-size="40.26" font-weight="bold" fill="#d72638" stroke="#d72638" stroke-width="1.3">25.400</text>
<text transform="translate(1462.65 476.75) rotate(0.05) scale(1.0588 1)" x="0.61 18.04 31.40 51.64 66.43 89.68" y="0 -1.2 0 0 0 0" font-size="41.42" font-weight="normal" fill="#231f20" stroke="#231f20" stroke-width="0.5"><tspan textLength="19.58" lengthAdjust="spacingAndGlyphs">1</tspan><tspan textLength="17.19" lengthAdjust="spacingAndGlyphs">-</tspan><tspan textLength="19.58" lengthAdjust="spacingAndGlyphs">1</tspan><tspan font-size="39.14" textLength="13.35" lengthAdjust="spacingAndGlyphs">/</tspan>32</text>
<text transform="translate(1689.75 476.75) rotate(0.05) scale(1.0588 1)" x="0.61 17.90 29.00 53.82 76.53" y="0" font-size="41.42" font-weight="normal" fill="#006e89" stroke="#006e89" stroke-width="0.5"><tspan textLength="19.58" lengthAdjust="spacingAndGlyphs">1</tspan>.03<tspan textLength="19.58" lengthAdjust="spacingAndGlyphs">1</tspan></text>
<text transform="translate(1916.85 476.75) rotate(0.05) scale(1.0588 1)" x="1.37 25.32 48.18 55.70 73.59 97.79" y="0" font-size="41.42" font-weight="normal" fill="#d72638" stroke="#d72638" stroke-width="0.5">26.<tspan textLength="19.58" lengthAdjust="spacingAndGlyphs">1</tspan>94</text>
<text transform="translate(1462.65 564.00) rotate(0.05) scale(1.0816 1)" x="1.26 18.23 31.35 51.61 65.63 83.91" y="0 -1.2 0 0 0 0" font-size="42.15" font-weight="bold" fill="#231f20"><tspan textLength="19.94" lengthAdjust="spacingAndGlyphs">1</tspan><tspan textLength="16.86" lengthAdjust="spacingAndGlyphs">-</tspan><tspan textLength="19.94" lengthAdjust="spacingAndGlyphs">1</tspan><tspan font-size="39.83" textLength="14.32" lengthAdjust="spacingAndGlyphs">/</tspan><tspan textLength="19.94" lengthAdjust="spacingAndGlyphs">1</tspan>6</text>
<text transform="translate(1689.75 564.00) rotate(0.05) scale(1.0816 1)" x="1.10 19.01 29.85 55.00 80.20" y="0" font-size="42.15" font-weight="bold" fill="#006e89"><tspan textLength="19.94" lengthAdjust="spacingAndGlyphs">1</tspan>.063</text>
<text transform="translate(1916.85 564.00) rotate(0.05) scale(1.0816 1)" x="1.57 26.07 49.52 60.47 85.36 110.62" y="0" font-size="42.15" font-weight="bold" fill="#d72638">26.988</text>
<text transform="translate(1462.65 650.75) rotate(0.05) scale(1.0588 1)" x="0.61 18.04 35.17 58.87 74.55 97.80" y="0 -1.2 0 0 0 0" font-size="41.42" font-weight="normal" fill="#231f20" stroke="#231f20" stroke-width="0.5"><tspan textLength="19.58" lengthAdjust="spacingAndGlyphs">1</tspan><tspan textLength="17.19" lengthAdjust="spacingAndGlyphs">-</tspan>3<tspan font-size="39.14" textLength="13.35" lengthAdjust="spacingAndGlyphs">/</tspan>32</text>
<text transform="translate(1689.75 650.75) rotate(0.05) scale(1.0588 1)" x="0.61 17.90 29.00 53.61 77.82" y="0" font-size="41.42" font-weight="normal" fill="#006e89" stroke="#006e89" stroke-width="0.5"><tspan textLength="19.58" lengthAdjust="spacingAndGlyphs">1</tspan>.094</text>
<text transform="translate(1916.85 650.75) rotate(0.05) scale(1.0588 1)" x="1.37 23.93 43.22 50.65 73.77 96.97" y="0" font-size="41.42" font-weight="normal" fill="#d72638" stroke="#d72638" stroke-width="0.5">27.78<tspan textLength="19.58" lengthAdjust="spacingAndGlyphs">1</tspan></text>
<text transform="translate(1462.65 737.35) rotate(0.05) scale(1.125 1)" x="1.81 18.88 31.13 51.56 68.52" y="0 -1.2 0 0 0" font-size="40.26" font-weight="bold" fill="#231f20" stroke="#231f20" stroke-width="1.3"><tspan textLength="18.71" lengthAdjust="spacingAndGlyphs">1</tspan><tspan textLength="14.48" lengthAdjust="spacingAndGlyphs">-</tspan><tspan textLength="18.71" lengthAdjust="spacingAndGlyphs">1</tspan><tspan font-size="38.05" textLength="13.62" lengthAdjust="spacingAndGlyphs">/</tspan>8</text>
<text transform="translate(1689.75 737.35) rotate(0.05) scale(1.125 1)" x="-0.18 17.58 26.57 45.63 68.72" y="0" font-size="40.26" font-weight="bold" fill="#006e89" stroke="#006e89" stroke-width="1.3"><tspan textLength="18.71" lengthAdjust="spacingAndGlyphs">1</tspan>.<tspan textLength="18.71" lengthAdjust="spacingAndGlyphs">1</tspan>25</text>
<text transform="translate(1916.85 737.35) rotate(0.05) scale(1.125 1)" x="2.25 27.26 50.83 61.99 84.63 107.27" y="0" font-size="40.26" font-weight="bold" fill="#d72638" stroke="#d72638" stroke-width="1.3">28.575</text>
<text transform="translate(1462.65 825.80) rotate(0.05) scale(1.0588 1)" x="0.61 18.04 34.94 58.49 74.17 97.43" y="0 -1.2 0 0 0 0" font-size="41.42" font-weight="normal" fill="#231f20" stroke="#231f20" stroke-width="0.5"><tspan textLength="19.58" lengthAdjust="spacingAndGlyphs">1</tspan><tspan textLength="17.19" lengthAdjust="spacingAndGlyphs">-</tspan>5<tspan font-size="39.14" textLength="13.35" lengthAdjust="spacingAndGlyphs">/</tspan>32</text>
<text transform="translate(1689.75 825.80) rotate(0.05) scale(1.0588 1)" x="0.61 17.90 25.43 43.30 66.92" y="0" font-size="41.42" font-weight="normal" fill="#006e89" stroke="#006e89" stroke-width="0.5"><tspan textLength="19.58" lengthAdjust="spacingAndGlyphs">1</tspan>.<tspan textLength="19.58" lengthAdjust="spacingAndGlyphs">1</tspan>56</text>
<text transform="translate(1916.85 825.80) rotate(0.05) scale(1.0588 1)" x="1.37 25.42 48.03 58.73 82.50 106.74" y="0" font-size="41.42" font-weight="normal" fill="#d72638" stroke="#d72638" stroke-width="0.5">29.369</text>
<text transform="translate(1462.65 913.30) rotate(0.05) scale(1.0816 1)" x="1.26 18.23 35.25 59.45 74.26 92.54" y="0 -1.2 0 0 0 0" font-size="42.15" font-weight="bold" fill="#231f20"><tspan textLength="19.94" lengthAdjust="spacingAndGlyphs">1</tspan><tspan textLength="16.86" lengthAdjust="spacingAndGlyphs">-</tspan>3<tspan font-size="39.83" textLength="14.32" lengthAdjust="spacingAndGlyphs">/</tspan><tspan textLength="19.94" lengthAdjust="spacingAndGlyphs">1</tspan>6</text>
<text transform="translate(1689.75 913.30) rotate(0.05) scale(1.0816 1)" x="0.97 18.86 27.24 44.98 70.23" y="0" font-size="42.15" font-weight="bold" fill="#006e89"><tspan textLength="19.94" lengthAdjust="spacingAndGlyphs">1</tspan>.<tspan textLength="19.94" lengthAdjust="spacingAndGlyphs">1</tspan>88</text>
<text transform="translate(1916.85 913.30) rotate(0.05) scale(1.0816 1)" x="2.52 27.48 51.10 59.50 77.57 102.76" y="0" font-size="42.15" font-weight="bold" fill="#d72638">30.<tspan textLength="19.94" lengthAdjust="spacingAndGlyphs">1</tspan>63</text>
<text transform="translate(1462.65 1000.35) rotate(0.05) scale(1.0588 1)" x="0.61 18.04 33.47 53.96 69.64 92.89" y="0 -1.2 0 0 0 0" font-size="41.42" font-weight="normal" fill="#231f20" stroke="#231f20" stroke-width="0.5"><tspan textLength="19.58" lengthAdjust="spacingAndGlyphs">1</tspan><tspan textLength="17.19" lengthAdjust="spacingAndGlyphs">-</tspan>7<tspan font-size="39.14" textLength="13.35" lengthAdjust="spacingAndGlyphs">/</tspan>32</text>
<text transform="translate(1689.75 1000.35) rotate(0.05) scale(1.0588 1)" x="0.61 17.90 27.77 50.65 68.54" y="0" font-size="41.42" font-weight="normal" fill="#006e89" stroke="#006e89" stroke-width="0.5"><tspan textLength="19.58" lengthAdjust="spacingAndGlyphs">1</tspan>.2<tspan textLength="19.58" lengthAdjust="spacingAndGlyphs">1</tspan>9</text>
<text transform="translate(1916.85 1000.35) rotate(0.05) scale(1.0588 1)" x="2.11 26.59 49.83 60.32 84.29 107.91" y="0" font-size="41.42" font-weight="normal" fill="#d72638" stroke="#d72638" stroke-width="0.5">30.956</text>
<text transform="translate(1462.65 1087.25) rotate(0.05) scale(1.125 1)" x="1.81 18.88 31.13 51.56 65.93" y="0 -1.2 0 0 0" font-size="40.26" font-weight="bold" fill="#231f20" stroke="#231f20" stroke-width="1.3"><tspan textLength="18.71" lengthAdjust="spacingAndGlyphs">1</tspan><tspan textLength="14.48" lengthAdjust="spacingAndGlyphs">-</tspan><tspan textLength="18.71" lengthAdjust="spacingAndGlyphs">1</tspan><tspan font-size="38.05" textLength="13.62" lengthAdjust="spacingAndGlyphs">/</tspan>4</text>
<text transform="translate(1689.75 1087.25) rotate(0.05) scale(1.125 1)" x="1.35 19.30 29.36 53.47 78.25" y="0" font-size="40.26" font-weight="bold" fill="#006e89" stroke="#006e89" stroke-width="1.3"><tspan textLength="18.71" lengthAdjust="spacingAndGlyphs">1</tspan>.250</text>
<text transform="translate(1916.85 1087.25) rotate(0.05) scale(1.125 1)" x="2.26 24.37 42.36 49.92 72.56 97.35" y="0" font-size="40.26" font-weight="bold" fill="#d72638" stroke="#d72638" stroke-width="1.3">3<tspan textLength="18.71" lengthAdjust="spacingAndGlyphs">1</tspan>.750</text>
<text transform="translate(1462.65 1175.75) rotate(0.05) scale(1.0588 1)" x="0.61 18.04 34.96 58.78 74.46 97.71" y="0 -1.2 0 0 0 0" font-size="41.42" font-weight="normal" fill="#231f20" stroke="#231f20" stroke-width="0.5"><tspan textLength="19.58" lengthAdjust="spacingAndGlyphs">1</tspan><tspan textLength="17.19" lengthAdjust="spacingAndGlyphs">-</tspan>9<tspan font-size="39.14" textLength="13.35" lengthAdjust="spacingAndGlyphs">/</tspan>32</text>
<text transform="translate(1689.75 1175.75) rotate(0.05) scale(1.0588 1)" x="0.61 17.90 27.77 52.38 75.58" y="0" font-size="41.42" font-weight="normal" fill="#006e89" stroke="#006e89" stroke-width="0.5"><tspan textLength="19.58" lengthAdjust="spacingAndGlyphs">1</tspan>.28<tspan textLength="19.58" lengthAdjust="spacingAndGlyphs">1</tspan></text>
<text transform="translate(1916.85 1175.75) rotate(0.05) scale(1.0588 1)" x="2.11 25.36 48.03 58.51 82.45 107.19" y="0" font-size="41.42" font-weight="normal" fill="#d72638" stroke="#d72638" stroke-width="0.5">32.544</text>
<text transform="translate(1462.65 1262.80) rotate(0.05) scale(1.0816 1)" x="1.26 18.23 34.62 58.77 73.58 91.86" y="0 -1.2 0 0 0 0" font-size="42.15" font-weight="bold" fill="#231f20"><tspan textLength="19.94" lengthAdjust="spacingAndGlyphs">1</tspan><tspan textLength="16.86" lengthAdjust="spacingAndGlyphs">-</tspan>5<tspan font-size="39.83" textLength="14.32" lengthAdjust="spacingAndGlyphs">/</tspan><tspan textLength="19.94" lengthAdjust="spacingAndGlyphs">1</tspan>6</text>
<text transform="translate(1689.75 1262.80) rotate(0.05) scale(1.0816 1)" x="1.10 19.01 29.77 52.93 71.60" y="0" font-size="42.15" font-weight="bold" fill="#006e89"><tspan textLength="19.94" lengthAdjust="spacingAndGlyphs">1</tspan>.3<tspan textLength="19.94" lengthAdjust="spacingAndGlyphs">1</tspan>3</text>
<text transform="translate(1916.85 1262.80) rotate(0.05) scale(1.0816 1)" x="2.52 27.39 50.52 61.94 86.82 111.63" y="0" font-size="42.15" font-weight="bold" fill="#d72638">33.338</text>
<text transform="translate(1462.65 1350.05) rotate(0.05) scale(1.0588 1)" x="0.61 18.04 31.23 48.69 68.91 83.14 106.40" y="0 -1.2 0 0 0 0 0" font-size="41.42" font-weight="normal" fill="#231f20" stroke="#231f20" stroke-width="0.5"><tspan textLength="19.58" lengthAdjust="spacingAndGlyphs">1</tspan><tspan textLength="17.19" lengthAdjust="spacingAndGlyphs">-</tspan><tspan textLength="19.58" lengthAdjust="spacingAndGlyphs">1</tspan><tspan textLength="19.58" lengthAdjust="spacingAndGlyphs">1</tspan><tspan font-size="39.14" textLength="13.35" lengthAdjust="spacingAndGlyphs">/</tspan>32</text>
<text transform="translate(1689.75 1350.05) rotate(0.05) scale(1.0588 1)" x="0.61 17.90 28.60 52.70 77.44" y="0" font-size="41.42" font-weight="normal" fill="#006e89" stroke="#006e89" stroke-width="0.5"><tspan textLength="19.58" lengthAdjust="spacingAndGlyphs">1</tspan>.344</text>
<text transform="translate(1916.85 1350.05) rotate(0.05) scale(1.0588 1)" x="2.11 26.20 49.36 56.88 74.97 97.68" y="0" font-size="41.42" font-weight="normal" fill="#d72638" stroke="#d72638" stroke-width="0.5">34.<tspan textLength="19.58" lengthAdjust="spacingAndGlyphs">1</tspan>3<tspan textLength="19.58" lengthAdjust="spacingAndGlyphs">1</tspan></text>
<text transform="translate(1462.65 1437.20) rotate(0.05) scale(1.125 1)" x="1.81 18.88 34.64 59.10 76.86" y="0 -1.2 0 0 0" font-size="40.26" font-weight="bold" fill="#231f20" stroke="#231f20" stroke-width="1.3"><tspan textLength="18.71" lengthAdjust="spacingAndGlyphs">1</tspan><tspan textLength="14.48" lengthAdjust="spacingAndGlyphs">-</tspan>3<tspan font-size="38.05" textLength="13.62" lengthAdjust="spacingAndGlyphs">/</tspan>8</text>
<text transform="translate(1689.75 1437.20) rotate(0.05) scale(1.125 1)" x="1.55 19.53 29.99 52.43 75.07" y="0" font-size="40.26" font-weight="bold" fill="#006e89" stroke="#006e89" stroke-width="1.3"><tspan textLength="18.71" lengthAdjust="spacingAndGlyphs">1</tspan>.375</text>
<text transform="translate(1916.85 1437.20) rotate(0.05) scale(1.125 1)" x="2.26 26.04 49.52 60.82 84.77 109.00" y="0" font-size="40.26" font-weight="bold" fill="#d72638" stroke="#d72638" stroke-width="1.3">34.925</text>
<text transform="translate(1462.65 1524.65) rotate(0.05) scale(1.0588 1)" x="0.61 18.04 32.47 50.56 74.26 89.94 113.20" y="0 -1.2 0 0 0 0 0" font-size="41.42" font-weight="normal" fill="#231f20" stroke="#231f20" stroke-width="0.5"><tspan textLength="19.58" lengthAdjust="spacingAndGlyphs">1</tspan><tspan textLength="17.19" lengthAdjust="spacingAndGlyphs">-</tspan><tspan textLength="19.58" lengthAdjust="spacingAndGlyphs">1</tspan>3<tspan font-size="39.14" textLength="13.35" lengthAdjust="spacingAndGlyphs">/</tspan>32</text>
<text transform="translate(1689.75 1524.65) rotate(0.05) scale(1.0588 1)" x="0.61 17.90 28.61 53.74 78.25" y="0" font-size="41.42" font-weight="normal" fill="#006e89" stroke="#006e89" stroke-width="0.5"><tspan textLength="19.58" lengthAdjust="spacingAndGlyphs">1</tspan>.406</text>
<text transform="translate(1916.85 1524.65) rotate(0.05) scale(1.0588 1)" x="2.11 25.97 48.32 55.76 77.14 95.03" y="0" font-size="41.42" font-weight="normal" fill="#d72638" stroke="#d72638" stroke-width="0.5">35.7<tspan textLength="19.58" lengthAdjust="spacingAndGlyphs">1</tspan>9</text>
<text transform="translate(1462.65 1613.00) rotate(0.05) scale(1.0816 1)" x="1.26 18.23 33.30 54.36 69.17 87.45" y="0 -1.2 0 0 0 0" font-size="42.15" font-weight="bold" fill="#231f20"><tspan textLength="19.94" lengthAdjust="spacingAndGlyphs">1</tspan><tspan textLength="16.86" lengthAdjust="spacingAndGlyphs">-</tspan>7<tspan font-size="39.83" textLength="14.32" lengthAdjust="spacingAndGlyphs">/</tspan><tspan textLength="19.94" lengthAdjust="spacingAndGlyphs">1</tspan>6</text>
<text transform="translate(1689.75 1613.00) rotate(0.05) scale(1.0816 1)" x="1.10 19.01 28.98 54.64 79.45" y="0" font-size="42.15" font-weight="bold" fill="#006e89"><tspan textLength="19.94" lengthAdjust="spacingAndGlyphs">1</tspan>.438</text>
<text transform="translate(1916.85 1613.00) rotate(0.05) scale(1.0816 1)" x="2.52 27.00 50.45 61.23 84.35 103.02" y="0" font-size="42.15" font-weight="bold" fill="#d72638">36.5<tspan textLength="19.94" lengthAdjust="spacingAndGlyphs">1</tspan>3</text>
<text transform="translate(1462.65 1699.75) rotate(0.05) scale(1.0588 1)" x="0.61 18.04 32.47 50.34 73.89 89.57 112.82" y="0 -1.2 0 0 0 0 0" font-size="41.42" font-weight="normal" fill="#231f20" stroke="#231f20" stroke-width="0.5"><tspan textLength="19.58" lengthAdjust="spacingAndGlyphs">1</tspan><tspan textLength="17.19" lengthAdjust="spacingAndGlyphs">-</tspan><tspan textLength="19.58" lengthAdjust="spacingAndGlyphs">1</tspan>5<tspan font-size="39.14" textLength="13.35" lengthAdjust="spacingAndGlyphs">/</tspan>32</text>
<text transform="translate(1689.75 1699.75) rotate(0.05) scale(1.0588 1)" x="0.61 17.90 28.61 53.04 77.27" y="0" font-size="41.42" font-weight="normal" fill="#006e89" stroke="#006e89" stroke-width="0.5"><tspan textLength="19.58" lengthAdjust="spacingAndGlyphs">1</tspan>.469</text>
<text transform="translate(1916.85 1699.75) rotate(0.05) scale(1.0588 1)" x="2.11 24.49 43.78 54.48 78.96 103.47" y="0" font-size="41.42" font-weight="normal" fill="#d72638" stroke="#d72638" stroke-width="0.5">37.306</text>
<text transform="translate(1462.65 1787.25) rotate(0.05) scale(1.125 1)" x="1.81 18.88 31.13 51.56 67.36" y="0 -1.2 0 0 0" font-size="40.26" font-weight="bold" fill="#231f20" stroke="#231f20" stroke-width="1.3"><tspan textLength="18.71" lengthAdjust="spacingAndGlyphs">1</tspan><tspan textLength="14.48" lengthAdjust="spacingAndGlyphs">-</tspan><tspan textLength="18.71" lengthAdjust="spacingAndGlyphs">1</tspan><tspan font-size="38.05" textLength="13.62" lengthAdjust="spacingAndGlyphs">/</tspan>2</text>
<text transform="translate(1689.75 1787.25) rotate(0.05) scale(1.125 1)" x="1.55 19.53 29.61 54.39 79.69" y="0" font-size="40.26" font-weight="bold" fill="#006e89" stroke="#006e89" stroke-width="1.3"><tspan textLength="18.71" lengthAdjust="spacingAndGlyphs">1</tspan>.500</text>
<text transform="translate(1916.85 1787.25) rotate(0.05) scale(1.125 1)" x="2.26 27.10 50.39 59.64 77.62 102.91" y="0" font-size="40.26" font-weight="bold" fill="#d72638" stroke="#d72638" stroke-width="1.3">38.<tspan textLength="18.71" lengthAdjust="spacingAndGlyphs">1</tspan>00</text>
<text transform="translate(2143.95 476.75) rotate(0.05) scale(1.0588 1)" x="0.61 18.04 32.47 48.86 69.35 85.03 108.29" y="0 -1.2 0 0 0 0 0" font-size="41.42" font-weight="normal" fill="#231f20" stroke="#231f20" stroke-width="0.5"><tspan textLength="19.58" lengthAdjust="spacingAndGlyphs">1</tspan><tspan textLength="17.19" lengthAdjust="spacingAndGlyphs">-</tspan><tspan textLength="19.58" lengthAdjust="spacingAndGlyphs">1</tspan>7<tspan font-size="39.14" textLength="13.35" lengthAdjust="spacingAndGlyphs">/</tspan>32</text>
<text transform="translate(2371.05 476.75) rotate(0.05) scale(1.0588 1)" x="0.61 17.90 28.38 52.31 75.02" y="0" font-size="41.42" font-weight="normal" fill="#006e89" stroke="#006e89" stroke-width="0.5"><tspan textLength="19.58" lengthAdjust="spacingAndGlyphs">1</tspan>.53<tspan textLength="19.58" lengthAdjust="spacingAndGlyphs">1</tspan></text>
<text transform="translate(2598.15 476.75) rotate(0.05) scale(1.0588 1)" x="2.11 26.54 49.54 60.59 84.97 109.17" y="0" font-size="41.42" font-weight="normal" fill="#d72638" stroke="#d72638" stroke-width="0.5">38.894</text>
<text transform="translate(2143.95 564.00) rotate(0.05) scale(1.0816 1)" x="1.26 18.23 34.79 59.06 73.87 92.15" y="0 -1.2 0 0 0 0" font-size="42.15" font-weight="bold" fill="#231f20"><tspan textLength="19.94" lengthAdjust="spacingAndGlyphs">1</tspan><tspan textLength="16.86" lengthAdjust="spacingAndGlyphs">-</tspan>9<tspan font-size="39.83" textLength="14.32" lengthAdjust="spacingAndGlyphs">/</tspan><tspan textLength="19.94" lengthAdjust="spacingAndGlyphs">1</tspan>6</text>
<text transform="translate(2371.05 564.00) rotate(0.05) scale(1.0816 1)" x="1.10 19.01 29.13 53.57 78.76" y="0" font-size="42.15" font-weight="bold" fill="#006e89"><tspan textLength="19.94" lengthAdjust="spacingAndGlyphs">1</tspan>.563</text>
<text transform="translate(2598.15 564.00) rotate(0.05) scale(1.0816 1)" x="2.52 26.93 50.13 61.16 86.29 111.55" y="0" font-size="42.15" font-weight="bold" fill="#d72638">39.688</text>
<text transform="translate(2143.95 650.75) rotate(0.05) scale(1.0588 1)" x="0.61 18.04 32.47 50.35 74.17 89.85 113.10" y="0 -1.2 0 0 0 0 0" font-size="41.42" font-weight="normal" fill="#231f20" stroke="#231f20" stroke-width="0.5"><tspan textLength="19.58" lengthAdjust="spacingAndGlyphs">1</tspan><tspan textLength="17.19" lengthAdjust="spacingAndGlyphs">-</tspan><tspan textLength="19.58" lengthAdjust="spacingAndGlyphs">1</tspan>9<tspan font-size="39.14" textLength="13.35" lengthAdjust="spacingAndGlyphs">/</tspan>32</text>
<text transform="translate(2371.05 650.75) rotate(0.05) scale(1.0588 1)" x="0.61 17.90 28.38 52.10 76.31" y="0" font-size="41.42" font-weight="normal" fill="#006e89" stroke="#006e89" stroke-width="0.5"><tspan textLength="19.58" lengthAdjust="spacingAndGlyphs">1</tspan>.594</text>
<text transform="translate(2598.15 650.75) rotate(0.05) scale(1.0588 1)" x="2.40 27.54 50.77 61.48 86.56 109.77" y="0" font-size="41.42" font-weight="normal" fill="#d72638" stroke="#d72638" stroke-width="0.5">40.48<tspan textLength="19.58" lengthAdjust="spacingAndGlyphs">1</tspan></text>
<text transform="translate(2143.95 737.35) rotate(0.05) scale(1.125 1)" x="1.81 18.88 34.26 58.91 76.68" y="0 -1.2 0 0 0" font-size="40.26" font-weight="bold" fill="#231f20" stroke="#231f20" stroke-width="1.3"><tspan textLength="18.71" lengthAdjust="spacingAndGlyphs">1</tspan><tspan textLength="14.48" lengthAdjust="spacingAndGlyphs">-</tspan>5<tspan font-size="38.05" textLength="13.62" lengthAdjust="spacingAndGlyphs">/</tspan>8</text>
<text transform="translate(2371.05 737.35) rotate(0.05) scale(1.125 1)" x="1.55 19.53 29.74 53.85 78.09" y="0" font-size="40.26" font-weight="bold" fill="#006e89" stroke="#006e89" stroke-width="1.3"><tspan textLength="18.71" lengthAdjust="spacingAndGlyphs">1</tspan>.625</text>
<text transform="translate(2598.15 737.35) rotate(0.05) scale(1.125 1)" x="2.39 25.28 43.27 53.36 75.98 98.61" y="0" font-size="40.26" font-weight="bold" fill="#d72638" stroke="#d72638" stroke-width="1.3">4<tspan textLength="18.71" lengthAdjust="spacingAndGlyphs">1</tspan>.275</text>
<text transform="translate(2143.95 825.80) rotate(0.05) scale(1.0588 1)" x="0.61 18.04 34.34 56.14 76.39 91.17 114.43" y="0 -1.2 0 0 0 0 0" font-size="41.42" font-weight="normal" fill="#231f20" stroke="#231f20" stroke-width="0.5"><tspan textLength="19.58" lengthAdjust="spacingAndGlyphs">1</tspan><tspan textLength="17.19" lengthAdjust="spacingAndGlyphs">-</tspan>2<tspan textLength="19.58" lengthAdjust="spacingAndGlyphs">1</tspan><tspan font-size="39.14" textLength="13.35" lengthAdjust="spacingAndGlyphs">/</tspan>32</text>
<text transform="translate(2371.05 825.80) rotate(0.05) scale(1.0588 1)" x="0.61 17.90 28.29 52.51 76.13" y="0" font-size="41.42" font-weight="normal" fill="#006e89" stroke="#006e89" stroke-width="0.5"><tspan textLength="19.58" lengthAdjust="spacingAndGlyphs">1</tspan>.656</text>
<text transform="translate(2598.15 825.80) rotate(0.05) scale(1.0588 1)" x="2.40 26.31 48.98 60.07 84.58 108.82" y="0" font-size="41.42" font-weight="normal" fill="#d72638" stroke="#d72638" stroke-width="0.5">42.069</text>
<text transform="translate(2143.95 913.30) rotate(0.05) scale(1.0816 1)" x="1.26 18.23 30.60 49.09 69.33 82.59 100.87" y="0 -1.2 0 0 0 0 0" font-size="42.15" font-weight="bold" fill="#231f20"><tspan textLength="19.94" lengthAdjust="spacingAndGlyphs">1</tspan><tspan textLength="16.86" lengthAdjust="spacingAndGlyphs">-</tspan><tspan textLength="19.94" lengthAdjust="spacingAndGlyphs">1</tspan><tspan textLength="19.94" lengthAdjust="spacingAndGlyphs">1</tspan><tspan font-size="39.83" textLength="14.32" lengthAdjust="spacingAndGlyphs">/</tspan><tspan textLength="19.94" lengthAdjust="spacingAndGlyphs">1</tspan>6</text>
<text transform="translate(2371.05 913.30) rotate(0.05) scale(1.0816 1)" x="1.10 19.01 29.38 54.51 79.76" y="0" font-size="42.15" font-weight="bold" fill="#006e89"><tspan textLength="19.94" lengthAdjust="spacingAndGlyphs">1</tspan>.688</text>
<text transform="translate(2598.15 913.30) rotate(0.05) scale(1.0816 1)" x="1.94 26.59 49.73 61.09 86.02 111.21" y="0" font-size="42.15" font-weight="bold" fill="#d72638">42.863</text>
<text transform="translate(2143.95 1000.35) rotate(0.05) scale(1.0588 1)" x="0.61 18.04 34.34 58.59 82.29 97.97 121.23" y="0 -1.2 0 0 0 0 0" font-size="41.42" font-weight="normal" fill="#231f20" stroke="#231f20" stroke-width="0.5"><tspan textLength="19.58" lengthAdjust="spacingAndGlyphs">1</tspan><tspan textLength="17.19" lengthAdjust="spacingAndGlyphs">-</tspan>23<tspan font-size="39.14" textLength="13.35" lengthAdjust="spacingAndGlyphs">/</tspan>32</text>
<text transform="translate(2371.05 1000.35) rotate(0.05) scale(1.0588 1)" x="0.61 17.90 25.34 46.73 64.62" y="0" font-size="41.42" font-weight="normal" fill="#006e89" stroke="#006e89" stroke-width="0.5"><tspan textLength="19.58" lengthAdjust="spacingAndGlyphs">1</tspan>.7<tspan textLength="19.58" lengthAdjust="spacingAndGlyphs">1</tspan>9</text>
<text transform="translate(2598.15 1000.35) rotate(0.05) scale(1.0588 1)" x="2.40 27.14 49.64 60.03 84.24 107.86" y="0" font-size="41.42" font-weight="normal" fill="#d72638" stroke="#d72638" stroke-width="0.5">43.656</text>
<text transform="translate(2143.95 1087.25) rotate(0.05) scale(1.125 1)" x="1.81 18.88 34.64 59.10 74.28" y="0 -1.2 0 0 0" font-size="40.26" font-weight="bold" fill="#231f20" stroke="#231f20" stroke-width="1.3"><tspan textLength="18.71" lengthAdjust="spacingAndGlyphs">1</tspan><tspan textLength="14.48" lengthAdjust="spacingAndGlyphs">-</tspan>3<tspan font-size="38.05" textLength="13.62" lengthAdjust="spacingAndGlyphs">/</tspan>4</text>
<text transform="translate(2371.05 1087.25) rotate(0.05) scale(1.125 1)" x="1.55 19.53 26.73 49.37 74.16" y="0" font-size="40.26" font-weight="bold" fill="#006e89" stroke="#006e89" stroke-width="1.3"><tspan textLength="18.71" lengthAdjust="spacingAndGlyphs">1</tspan>.750</text>
<text transform="translate(2598.15 1087.25) rotate(0.05) scale(1.125 1)" x="2.39 26.98 50.46 61.34 86.21 110.99" y="0" font-size="40.26" font-weight="bold" fill="#d72638" stroke="#d72638" stroke-width="1.3">44.450</text>
<text transform="translate(2143.95 1175.75) rotate(0.05) scale(1.0588 1)" x="0.61 18.04 34.34 58.37 81.91 97.59 120.85" y="0 -1.2 0 0 0 0 0" font-size="41.42" font-weight="normal" fill="#231f20" stroke="#231f20" stroke-width="0.5"><tspan textLength="19.58" lengthAdjust="spacingAndGlyphs">1</tspan><tspan textLength="17.19" lengthAdjust="spacingAndGlyphs">-</tspan>25<tspan font-size="39.14" textLength="13.35" lengthAdjust="spacingAndGlyphs">/</tspan>32</text>
<text transform="translate(2371.05 1175.75) rotate(0.05) scale(1.0588 1)" x="0.61 17.90 25.34 48.46 71.66" y="0" font-size="41.42" font-weight="normal" fill="#006e89" stroke="#006e89" stroke-width="0.5"><tspan textLength="19.58" lengthAdjust="spacingAndGlyphs">1</tspan>.78<tspan textLength="19.58" lengthAdjust="spacingAndGlyphs">1</tspan></text>
<text transform="translate(2598.15 1175.75) rotate(0.05) scale(1.0588 1)" x="2.40 26.92 49.26 59.13 83.39 108.14" y="0" font-size="41.42" font-weight="normal" fill="#d72638" stroke="#d72638" stroke-width="0.5">45.244</text>
<text transform="translate(2143.95 1262.80) rotate(0.05) scale(1.0816 1)" x="1.26 18.23 32.30 50.97 75.16 89.98 108.25" y="0 -1.2 0 0 0 0 0" font-size="42.15" font-weight="bold" fill="#231f20"><tspan textLength="19.94" lengthAdjust="spacingAndGlyphs">1</tspan><tspan textLength="16.86" lengthAdjust="spacingAndGlyphs">-</tspan><tspan textLength="19.94" lengthAdjust="spacingAndGlyphs">1</tspan>3<tspan font-size="39.83" textLength="14.32" lengthAdjust="spacingAndGlyphs">/</tspan><tspan textLength="19.94" lengthAdjust="spacingAndGlyphs">1</tspan>6</text>
<text transform="translate(2371.05 1262.80) rotate(0.05) scale(1.0816 1)" x="1.10 19.01 29.71 53.32 71.98" y="0" font-size="42.15" font-weight="bold" fill="#006e89"><tspan textLength="19.94" lengthAdjust="spacingAndGlyphs">1</tspan>.8<tspan textLength="19.94" lengthAdjust="spacingAndGlyphs">1</tspan>3</text>
<text transform="translate(2598.15 1262.80) rotate(0.05) scale(1.0816 1)" x="1.94 27.22 50.66 62.17 87.71 112.52" y="0" font-size="42.15" font-weight="bold" fill="#d72638">46.038</text>
<text transform="translate(2143.95 1350.05) rotate(0.05) scale(1.0588 1)" x="0.61 18.04 34.34 56.89 77.38 93.06 116.32" y="0 -1.2 0 0 0 0 0" font-size="41.42" font-weight="normal" fill="#231f20" stroke="#231f20" stroke-width="0.5"><tspan textLength="19.58" lengthAdjust="spacingAndGlyphs">1</tspan><tspan textLength="17.19" lengthAdjust="spacingAndGlyphs">-</tspan>27<tspan font-size="39.14" textLength="13.35" lengthAdjust="spacingAndGlyphs">/</tspan>32</text>
<text transform="translate(2371.05 1350.05) rotate(0.05) scale(1.0588 1)" x="0.61 17.90 28.95 53.55 78.29" y="0" font-size="41.42" font-weight="normal" fill="#006e89" stroke="#006e89" stroke-width="0.5"><tspan textLength="19.58" lengthAdjust="spacingAndGlyphs">1</tspan>.844</text>
<text transform="translate(2598.15 1350.05) rotate(0.05) scale(1.0588 1)" x="2.40 26.83 49.69 60.73 85.32 108.03" y="0" font-size="41.42" font-weight="normal" fill="#d72638" stroke="#d72638" stroke-width="0.5">46.83<tspan textLength="19.58" lengthAdjust="spacingAndGlyphs">1</tspan></text>
<text transform="translate(2143.95 1437.20) rotate(0.05) scale(1.125 1)" x="1.81 18.88 32.65 54.15 71.92" y="0 -1.2 0 0 0" font-size="40.26" font-weight="bold" fill="#231f20" stroke="#231f20" stroke-width="1.3"><tspan textLength="18.71" lengthAdjust="spacingAndGlyphs">1</tspan><tspan textLength="14.48" lengthAdjust="spacingAndGlyphs">-</tspan>7<tspan font-size="38.05" textLength="13.62" lengthAdjust="spacingAndGlyphs">/</tspan>8</text>
<text transform="translate(2371.05 1437.20) rotate(0.05) scale(1.125 1)" x="1.55 19.53 30.39 53.73 76.37" y="0" font-size="40.26" font-weight="bold" fill="#006e89" stroke="#006e89" stroke-width="1.3"><tspan textLength="18.71" lengthAdjust="spacingAndGlyphs">1</tspan>.875</text>
<text transform="translate(2598.15 1437.20) rotate(0.05) scale(1.125 1)" x="2.39 25.64 45.36 56.66 80.77 105.00" y="0" font-size="40.26" font-weight="bold" fill="#d72638" stroke="#d72638" stroke-width="1.3">47.625</text>
<text transform="translate(2143.95 1524.65) rotate(0.05) scale(1.0588 1)" x="0.61 18.04 34.34 58.38 82.20 97.88 121.13" y="0 -1.2 0 0 0 0 0" font-size="41.42" font-weight="normal" fill="#231f20" stroke="#231f20" stroke-width="0.5"><tspan textLength="19.58" lengthAdjust="spacingAndGlyphs">1</tspan><tspan textLength="17.19" lengthAdjust="spacingAndGlyphs">-</tspan>29<tspan font-size="39.14" textLength="13.35" lengthAdjust="spacingAndGlyphs">/</tspan>32</text>
<text transform="translate(2371.05 1524.65) rotate(0.05) scale(1.0588 1)" x="0.61 17.90 28.40 52.99 77.50" y="0" font-size="41.42" font-weight="normal" fill="#006e89" stroke="#006e89" stroke-width="0.5"><tspan textLength="19.58" lengthAdjust="spacingAndGlyphs">1</tspan>.906</text>
<text transform="translate(2598.15 1524.65) rotate(0.05) scale(1.0588 1)" x="2.40 27.49 50.49 61.20 84.56 102.44" y="0" font-size="41.42" font-weight="normal" fill="#d72638" stroke="#d72638" stroke-width="0.5">48.4<tspan textLength="19.58" lengthAdjust="spacingAndGlyphs">1</tspan>9</text>
<text transform="translate(2143.95 1613.00) rotate(0.05) scale(1.0816 1)" x="1.26 18.23 32.30 50.33 74.48 89.29 107.57" y="0 -1.2 0 0 0 0 0" font-size="42.15" font-weight="bold" fill="#231f20"><tspan textLength="19.94" lengthAdjust="spacingAndGlyphs">1</tspan><tspan textLength="16.86" lengthAdjust="spacingAndGlyphs">-</tspan><tspan textLength="19.94" lengthAdjust="spacingAndGlyphs">1</tspan>5<tspan font-size="39.83" textLength="14.32" lengthAdjust="spacingAndGlyphs">/</tspan><tspan textLength="19.94" lengthAdjust="spacingAndGlyphs">1</tspan>6</text>
<text transform="translate(2371.05 1613.00) rotate(0.05) scale(1.0816 1)" x="1.10 19.01 29.31 54.26 79.07" y="0" font-size="42.15" font-weight="bold" fill="#006e89"><tspan textLength="19.94" lengthAdjust="spacingAndGlyphs">1</tspan>.938</text>
<text transform="translate(2598.15 1613.00) rotate(0.05) scale(1.0816 1)" x="1.94 27.15 50.35 60.75 83.93 102.60" y="0" font-size="42.15" font-weight="bold" fill="#d72638">49.2<tspan textLength="19.94" lengthAdjust="spacingAndGlyphs">1</tspan>3</text>
<text transform="translate(2143.95 1699.75) rotate(0.05) scale(1.0588 1)" x="0.61 18.04 35.17 56.80 77.05 91.83 115.09" y="0 -1.2 0 0 0 0 0" font-size="41.42" font-weight="normal" fill="#231f20" stroke="#231f20" stroke-width="0.5"><tspan textLength="19.58" lengthAdjust="spacingAndGlyphs">1</tspan><tspan textLength="17.19" lengthAdjust="spacingAndGlyphs">-</tspan>3<tspan textLength="19.58" lengthAdjust="spacingAndGlyphs">1</tspan><tspan font-size="39.14" textLength="13.35" lengthAdjust="spacingAndGlyphs">/</tspan>32</text>
<text transform="translate(2371.05 1699.75) rotate(0.05) scale(1.0588 1)" x="0.61 17.90 28.40 52.28 76.52" y="0" font-size="41.42" font-weight="normal" fill="#006e89" stroke="#006e89" stroke-width="0.5"><tspan textLength="19.58" lengthAdjust="spacingAndGlyphs">1</tspan>.969</text>
<text transform="translate(2598.15 1699.75) rotate(0.05) scale(1.0588 1)" x="2.08 26.40 49.64 60.73 85.95 110.46" y="0" font-size="41.42" font-weight="normal" fill="#d72638" stroke="#d72638" stroke-width="0.5">50.006</text>
<text transform="translate(2143.95 1787.25) rotate(0.05) scale(1.125 1)" x="2.25" y="0" font-size="40.26" font-weight="bold" fill="#231f20" stroke="#231f20" stroke-width="1.3">2</text>
<text transform="translate(2371.05 1787.25) rotate(0.05) scale(1.125 1)" x="2.25 25.09 36.79 62.08 87.38" y="0" font-size="40.26" font-weight="bold" fill="#006e89" stroke="#006e89" stroke-width="1.3">2.000</text>
<text transform="translate(2598.15 1787.25) rotate(0.05) scale(1.125 1)" x="2.75 27.53 50.91 62.85 88.34 113.64" y="0" font-size="40.26" font-weight="bold" fill="#d72638" stroke="#d72638" stroke-width="1.3">50.800</text>
<text transform="translate(0 1925.80) scale(0.9253 1)" y="0" font-size="41.28" font-weight="normal" fill="#231f20" stroke="#231f20" stroke-width="0.8" stroke-linejoin="miter"><tspan x="144.96">=</tspan> <tspan x="180.44" letter-spacing="-0.942">These</tspan> <tspan x="300.88" letter-spacing="0.240">inch</tspan> <tspan x="387.04" letter-spacing="-0.821">and</tspan> <tspan x="463.74" letter-spacing="1.027">metric</tspan> <tspan x="592.26" letter-spacing="-0.683">sizes</tspan> <tspan x="692.98" letter-spacing="-0.005">convert</tspan> <tspan x="839.33" letter-spacing="2.370">to</tspan> <tspan x="886.64" letter-spacing="-0.147">approximate</tspan> <tspan x="1122.01" letter-spacing="0.118">equivalents</tspan> <tspan x="1341.96" letter-spacing="0.410">for</tspan> <tspan x="1401.99" letter-spacing="-0.173">normal</tspan> <tspan x="1537.78" letter-spacing="0.540">tool</tspan> <tspan x="1615.32" letter-spacing="-0.381">use.</tspan></text>
<text transform="translate(0 1936.90)" y="0" font-size="80.96" font-weight="bold" fill="#d72638" stroke="#d72638" stroke-width="7.0" stroke-linejoin="miter"><tspan x="1979.30" textLength="67.82" lengthAdjust="spacingAndGlyphs">T</tspan><tspan x="2053.53" textLength="74.57" lengthAdjust="spacingAndGlyphs">E</tspan><tspan x="2132.43" textLength="76.78" lengthAdjust="spacingAndGlyphs">K</tspan><tspan x="2212.02" textLength="66.67" lengthAdjust="spacingAndGlyphs">T</tspan><tspan x="2280.51" textLength="88.94" lengthAdjust="spacingAndGlyphs">O</tspan><tspan x="2370.45" textLength="87.59" lengthAdjust="spacingAndGlyphs">N</tspan></text>
<text transform="translate(0 1897.05) scale(0.9759 1)" y="0" font-size="27.47" font-weight="normal" fill="#808285" stroke="#808285" stroke-width="0.3" stroke-linejoin="miter"><tspan x="2553.49">©</tspan> <tspan x="2580.26" letter-spacing="2.492">2022</tspan> <tspan x="2655.97" letter-spacing="-0.756">Tekton,</tspan> <tspan x="2745.06" letter-spacing="-0.771">Inc.</tspan></text>
<text transform="translate(0 1939.70) scale(0.9392 1)" y="0" font-size="42.0" font-weight="bold" fill="#808285" stroke="#808285" stroke-width="0.6" stroke-linejoin="miter"><tspan x="2654.15">www.tekton.com</tspan></text>
</svg>
</body>
</html>
